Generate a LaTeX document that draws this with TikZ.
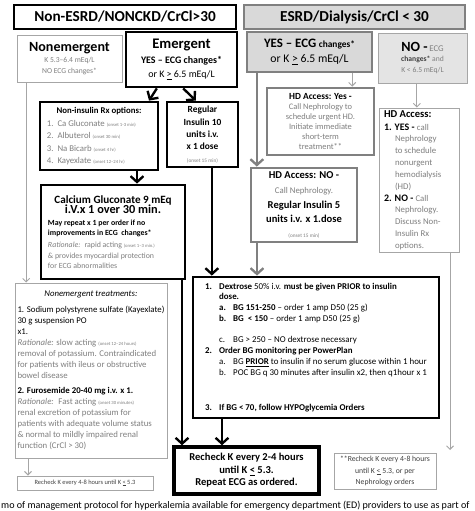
\documentclass[tikz,border=0pt]{standalone}
\usepackage{fontspec}
\setmainfont{Carlito}
\usepackage{tikz}
\usetikzlibrary{positioning, arrows.meta, shapes}
\definecolor{txtgray}{HTML}{7F7F7F}
\definecolor{linegray}{HTML}{A6A6A6}
\definecolor{boxgray}{HTML}{808080}
\definecolor{fillgray}{HTML}{D9D9D9}
\definecolor{darktxt}{HTML}{404040}
\newcommand{\sz}[2]{\fontsize{#1}{#2}\selectfont}
\tikzstyle{blackbox} = [rectangle, draw=black, line width=2.4pt, fill=white, align=center, inner sep=1pt]
\tikzstyle{graybox} = [rectangle, draw=boxgray, line width=2.4pt, fill=white, align=center, inner sep=1pt]
\tikzstyle{thinbox} = [rectangle, draw=linegray, line width=0.8pt, fill=white, align=center, inner sep=1pt]
\tikzstyle{arrow} = [line width=2pt, -{Straight Barb[length=5pt,width=11pt]}]
\tikzstyle{grayarrow} = [draw=boxgray, line width=2pt, -{Straight Barb[length=5pt,width=11pt]}]
\tikzstyle{thinarrow} = [draw=linegray, line width=0.8pt, -{Straight Barb[length=3pt,width=6pt]}]

\begin{document}
\begin{tikzpicture}[x=0.03cm, y=-0.03cm]
\useasboundingbox (0,0) rectangle (474,511);

% column headers
\node (NonESRD) [blackbox, minimum width=6.66cm, minimum height=0.72cm] at (125,17) {\sz{13}{15}\bfseries Non-ESRD/NONCKD/CrCl>30};
\node (ESRD) [graybox, fill=fillgray, minimum width=6.63cm, minimum height=0.72cm] at (354.5,17) {\sz{13}{15}\bfseries ESRD/Dialysis/CrCl < 30};

% non-ESRD side
\node (Nonemergent) [thinbox, font=\sz{6.5}{9}, minimum width=3.15cm, minimum height=1.41cm] at (69.5,58.5) {\sz{12}{13}\bfseries Nonemergent\\[1pt]
  \color{txtgray}K 5.3--6.4 mEq/L\\ \color{txtgray}NO ECG changes*};
\node (Emergent) [blackbox, font=\sz{8.5}{12}, minimum width=3.33cm, minimum height=1.65cm] at (181.5,59.5) {\sz{12.5}{13}\bfseries Emergent\\[1pt]
  \bfseries YES -- ECG changes*\\ or K \underline{>} 6.5 mEq/L};
\node (NonInsulin) [blackbox, font=\sz{7.5}{10.5}, minimum width=3.54cm, minimum height=2.04cm, align=left] at (99,136) {%
  \makebox[3.12cm][c]{\bfseries Non-insulin Rx options:}\\[1pt]
  \color{txtgray}\makebox[9pt][l]{1.}Ca Gluconate {\sz{4}{5}(onset 1-3 min)}\\
  \color{txtgray}\makebox[9pt][l]{2.}Albuterol {\sz{4}{5}(onset 30 min)}\\
  \color{txtgray}\makebox[9pt][l]{3.}Na Bicarb {\sz{4}{5}(onset 4 hr)}\\
  \color{txtgray}\makebox[9pt][l]{4.}Kayexlate {\sz{4}{5}(onset 12--24 hr)}};
\node (Insulin10) [blackbox, font=\sz{8}{10.5}, minimum width=2.13cm, minimum height=1.95cm] at (202.5,134.5) {\bfseries Regular\\
  \bfseries Insulin 10\\ \bfseries units i.v.\\ \bfseries x 1 dose\\
  \sz{4.5}{6}\color{txtgray}(onset 15 min)};
\node (CaGluc) [blackbox, font=\sz{6.7}{9}, minimum width=4.32cm, minimum height=2.82cm, align=left] at (113,232) {%
  \sz{9.5}{11}\makebox[3.9cm][c]{\bfseries Calcium Gluconate 9 mEq}\\
  \sz{10.5}{12}\makebox[3.9cm][c]{\bfseries i.V.x 1 over 30 min.}\\[1pt]
  \bfseries May repeat x 1 per order if no\\
  \bfseries improvements in ECG \ changes*\\[1pt]
  \color{txtgray}\textit{Rationale:} \ rapid acting {\sz{4}{5}(onset 1--3 min.)}\\
  \color{txtgray}\& provides myocardial protection\\
  \color{txtgray}for ECG abnormalities};
\node (NonemTreat) [thinbox, font=\sz{7.5}{9.4}, minimum width=4.56cm, minimum height=5.25cm, align=left] at (91,370.5) {%
  \makebox[4.4cm][c]{\itshape Nonemergent treatments:}\\[4pt]
  1. Sodium polystyrene sulfate (Kayexlate)\\
  30 g suspension PO\\
  x1.\\
  \color{txtgray}\textit{Rationale:} slow acting {\sz{4}{5}(onset 12--24 hours)}\\
  \color{txtgray}removal of potassium. Contraindicated\\
  \color{txtgray}for patients with ileus or obstructive\\
  \color{txtgray}bowel disease\\[4pt]
  \bfseries 2. Furosemide 20-40 mg i.v. x 1.\\
  \color{txtgray}\textit{Rationale:} \ Fast acting {\sz{4}{5}(onset 30 minutes)}\\
  \color{txtgray}renal excretion of potassium for\\
  \color{txtgray}patients with adequate volume status\\
  \color{txtgray}\& normal to mildly impaired renal\\
  \color{txtgray}function (CrCl > 30)};
\node (RecheckL) [thinbox, font=\sz{5.5}{6.5}, minimum width=4.08cm, minimum height=0.42cm] at (85,483) {\color{darktxt}Recheck K every 4-8 hours until K \underline{<} 5.3};

% ESRD side
\node (YesECG) [graybox, fill=fillgray, font=\sz{10}{13}, minimum width=3.75cm, minimum height=1.2cm] at (309.5,52) {%
  {\sz{11}{13}\bfseries YES -- ECG} {\sz{8}{13}\bfseries changes*}\\ or K \underline{>} 6.5 mEq/L};
\node (NoECG) [thinbox, fill=fillgray!70, font=\sz{6.5}{9}, minimum width=2.67cm, minimum height=1.5cm] at (422.5,58) {%
  {\sz{12}{14}\bfseries NO -} {\sz{7.5}{14}\color{txtgray} ECG}\\
  {\bfseries\color{darktxt}changes*} {\color{txtgray}and}\\
  \color{txtgray}K < 6.5 mEq/L};
\node (HDYes) [graybox, font=\sz{7.2}{8.6}, minimum width=3.21cm, minimum height=2.01cm] at (320.5,121.5) {%
  \sz{8}{10}\bfseries HD Access: Yes -\\
  \color{txtgray}Call Nephrology to\\
  \color{txtgray}schedule urgent HD.\\
  \color{txtgray}Initiate immediate\\
  \color{txtgray}short-term\\
  \color{txtgray}treatment**};
\node (HDNo) [graybox, font=\sz{9}{12.5}, minimum width=3.18cm, minimum height=2.22cm] at (304,205) {%
  \bfseries HD Access: NO -\\
  \sz{7.5}{10.5}\color{txtgray}Call Nephrology.\\
  \bfseries Regular Insulin 5\\
  \bfseries units i.v. x 1.dose\\
  \sz{4.5}{7}\color{txtgray}(onset 15 min)};
\node (HDRight) [thinbox, font=\sz{7.5}{10.1}, minimum width=2.4cm, minimum height=4.32cm, align=left] at (419,180) {%
  \sz{9}{11}\makebox[2.1cm][l]{\bfseries HD Access:}\\[1pt]
  \sz{8.5}{10}\textbf{1. YES - }{\color{txtgray}\sz{7.5}{10}call}\\
  \color{txtgray}\hspace*{0.33cm}Nephrology\\
  \color{txtgray}\hspace*{0.33cm}to schedule\\
  \color{txtgray}\hspace*{0.33cm}nonurgent\\
  \color{txtgray}\hspace*{0.33cm}hemodialysis\\
  \color{txtgray}\hspace*{0.33cm}(HD)\\
  \sz{8.5}{10}\textbf{2. NO - }{\color{txtgray}\sz{7.5}{10}Call}\\
  \color{txtgray}\hspace*{0.33cm}Nephrology.\\
  \color{txtgray}\hspace*{0.33cm}Discuss Non-\\
  \color{txtgray}\hspace*{0.33cm}Insulin Rx\\
  \color{txtgray}\hspace*{0.33cm}options.};
\node (Dextrose) [blackbox, font=\sz{7.6}{9.2}, minimum width=7.38cm, minimum height=4.23cm, align=left] at (316,347.5) {%
  \makebox[12pt][l]{\bfseries 1.}\textbf{Dextrose} 50\% i.v. \textbf{must be given PRIOR to insulin}\\
  \hspace*{12pt}\textbf{dose.}\\
  \hspace*{12pt}\makebox[12pt][l]{\bfseries a.}\textbf{BG 151-250} -- order 1 amp D50 (25 g)\\
  \hspace*{12pt}\makebox[12pt][l]{\bfseries b.}\textbf{BG \ < 150} -- order 1 amp D50 (25 g)\\[9pt]
  \hspace*{12pt}\makebox[12pt][l]{c.}BG > 250 -- NO dextrose necessary\\
  \makebox[12pt][l]{\bfseries 2.}\textbf{Order BG monitoring per PowerPlan}\\
  \hspace*{12pt}\makebox[12pt][l]{a.}BG \textbf{\underline{PRIOR}} to insulin if no serum glucose within 1 hour\\
  \hspace*{12pt}\makebox[12pt][l]{b.}POC BG q 30 minutes after insulin x2, then q1hour x 1\\[21pt]
  \makebox[12pt][l]{\bfseries 3.}\textbf{If BG < 70, follow HYPOglycemia Orders}};
\node (RecheckFinal) [blackbox, line width=3pt, font=\sz{9}{10.6}, minimum width=4.35cm, minimum height=1.41cm] at (246.5,470.5) {%
  \bfseries Recheck K every 2-4 hours\\
  \bfseries until K \underline{<} 5.3.\\
  \bfseries Repeat ECG as ordered.};
\node (RecheckR) [thinbox, font=\sz{6.6}{9.6}, minimum width=3.06cm, minimum height=1.08cm] at (385,471) {%
  \color{darktxt}**Recheck K every 4-8 hours\\
  \color{darktxt}until K \underline{<} 5.3, or per\\
  \color{darktxt}Nephrology orders};

% caption line at the foot
\node (Caption) [anchor=base west, inner sep=0pt] at (1,508) {\sz{8.6}{10}mo of management protocol for hyperkalemia available for emergency department (ED) providers to use as part of};

% connectors
\coordinate (RecheckRin) at (450,450);
\draw [arrow] ([xshift=-0.74cm]Emergent.south) -- ([xshift=1.5cm]NonInsulin.north);
\draw [arrow] ([xshift=0.05cm]Emergent.south) -- ([xshift=-0.2cm]Insulin10.north);
\draw [arrow] ([xshift=1.14cm]NonInsulin.south) -- ([xshift=1.14cm]NonInsulin.south |- CaGluc.north);
\draw [arrow] ([xshift=0.28cm]Insulin10.south) -- ([xshift=0.28cm]Insulin10.south |- Dextrose.north);
\draw [arrow] ([xshift=2.07cm]CaGluc.south) -- ([xshift=2.07cm]CaGluc.south |- RecheckFinal.north);
\draw [arrow] ([xshift=-2.82cm]Dextrose.south) -- ([xshift=-2.82cm]Dextrose.south |- RecheckFinal.north);
\draw [thinarrow] ([xshift=-1.3cm]Nonemergent.south) -- ([xshift=-1.3cm]Nonemergent.south |- NonemTreat.north);
\draw [thinarrow] ([xshift=-1.89cm]NonemTreat.south) -- ([xshift=-1.89cm]NonemTreat.south |- RecheckL.north);
\draw [thinarrow] ([xshift=1.28cm]YesECG.south) -- ([xshift=1.28cm]YesECG.south |- HDYes.north);
\draw [grayarrow] ([xshift=-1.58cm]YesECG.south) -- ([xshift=-1.58cm]YesECG.south |- HDNo.north);
\draw [grayarrow] ([xshift=-1.41cm]HDNo.south) -- ([xshift=-1.41cm]HDNo.south |- Dextrose.north);
\draw [thinarrow] ([xshift=-0.17cm]NoECG.south) -- ([xshift=-0.17cm]NoECG.south |- HDRight.north);
\draw [thinarrow] (HDRight.south -| RecheckRin) -- (RecheckRin);
\end{tikzpicture}
\end{document}
